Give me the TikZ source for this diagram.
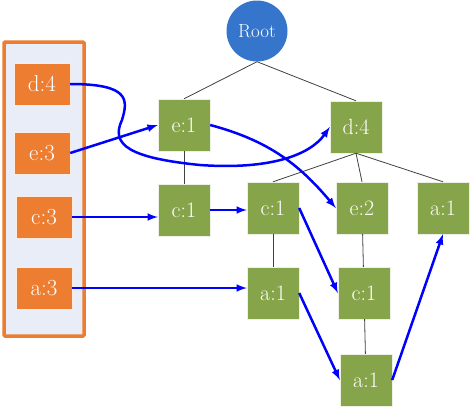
\documentclass[tikz,border=0pt]{standalone}
\usepackage{tikz}
\usetikzlibrary{arrows}

\definecolor{boxorange}{HTML}{ED7D31}
\definecolor{cntgreen}{HTML}{86A44A}
\definecolor{rootblue}{HTML}{3575CB}
\definecolor{panelblue}{HTML}{E8EDF7}

\begin{document}
\begin{tikzpicture}
	[x=1pt, y=-1pt, >=latex,
	 head/.style = {fill=boxorange, draw=white!85!boxorange, text=white, minimum width=56pt, minimum height=42pt, font=\fontsize{23}{23}\selectfont},
	 cnt/.style = {fill=cntgreen, draw=white!85!cntgreen, text=white, minimum size=52pt, font=\fontsize{22}{22}\selectfont},
	 tree/.style = {draw=black!75, line width=0.8pt},
	 link/.style = {->, blue, line width=2.5pt}]
	\useasboundingbox (0,0) rectangle (470,407);
	% header table
	\node[draw=boxorange, line width=3.5pt, fill=panelblue, rounded corners=1pt, minimum width=80pt, minimum height=294pt] (panel) at (44,189) {};
	\node[head] (h1) at (42,84) {d:4};
	\node[head] (h2) at (42,153) {e:3};
	\node[head] (h3) at (44,217) {c:3};
	\node[head] (h4) at (44,288) {a:3};
	% tree
	\node[circle, fill=rootblue, text=white, minimum size=61pt, inner sep=0pt, font=\fontsize{19}{19}\selectfont] (root) at (257,31) {Root};
	\node[cnt] (1) at (184,125) {e:1};
	\node[cnt] (2) at (356,127) {d:4};
	\node[cnt] (3) at (184,210) {c:1};
	\node[cnt] (4) at (273,208) {c:1};
	\node[cnt] (5) at (362,208) {e:2};
	\node[cnt] (6) at (443,208) {a:1};
	\node[cnt] (7) at (273,293) {a:1};
	\node[cnt] (8) at (364,293) {c:1};
	\node[cnt] (9) at (366,380) {a:1};
	\draw[tree] (root.south) -- (1.north);
	\draw[tree] (root.south) -- (2.north);
	\draw[tree] (1) -- (3);
	\draw[tree] (2.south) -- (4.north);
	\draw[tree] (2.south) -- (5.north);
	\draw[tree] (2.south) -- (6.north);
	\draw[tree] (4) -- (7);
	\draw[tree] (5) -- (8);
	\draw[tree] (8) -- (9);
	% node links
	\draw[link] (h1.east) .. controls (130,84) and (128,100) .. (122,120)
		.. controls (110,145) and (130,158) .. (200,165)
		.. controls (270,170) and (310,155) .. (2.west);
	\draw[link] (h2.east) -- (1.west);
	\draw[link] (h3.east) -- (h3.east -| 3.west);
	\draw[link] (h4.east) -- (h4.east -| 7.west);
	\draw[link] (1.east) to[out=-15, in=130] (5.west);
	\draw[link] (3.east) -- (3.east -| 4.west);
	\draw[link] (4.east) -- (8.west);
	\draw[link] (7.east) -- (9.west);
	\draw[link] (9.east) -- (6.south);
\end{tikzpicture}
\end{document}
